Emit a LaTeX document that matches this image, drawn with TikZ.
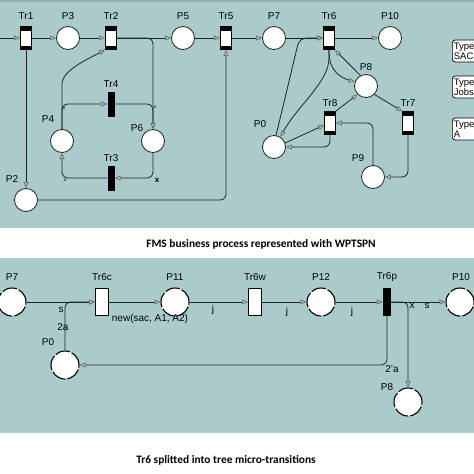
\documentclass[tikz,border=0pt]{standalone}
\usepackage{fontspec}
\setmainfont{Liberation Sans}
\newfontfamily\capfont{Carlito}
\usetikzlibrary{arrows.meta,positioning}

\definecolor{panel}{RGB}{171,203,203}
\definecolor{edge}{RGB}{30,36,36}

\begin{document}
\begin{tikzpicture}[x=1pt,y=-1pt,
    place/.style={circle,draw=edge,fill=white,inner sep=0pt,minimum size=23pt,line width=0.8pt},
    bplace/.style={circle,draw=black,fill=white,inner sep=0pt,minimum size=28pt,line width=1.1pt,dash pattern=on 15pt off 2pt},
    trans/.style={rectangle,draw=black,fill=white,inner sep=0pt,minimum width=11pt,minimum height=23pt,line width=0.6pt,
      path picture={
        \fill[black] (path picture bounding box.north west) rectangle ([yshift=-4pt]path picture bounding box.north east);
        \fill[black] (path picture bounding box.south west) rectangle ([yshift=4pt]path picture bounding box.south east);}},
    btrans/.style={rectangle,draw=black,fill=white,inner sep=0pt,minimum width=13pt,minimum height=27pt,line width=0.7pt},
    bar/.style={rectangle,fill=black,inner sep=0pt,minimum width=7pt,minimum height=25pt},
    lbl/.style={inner sep=0pt,font=\fontsize{10}{12}\selectfont},
    tiny/.style={inner sep=0pt,font=\fontsize{5}{6}\selectfont},
    caption/.style={font=\capfont\bfseries\fontsize{11.4}{13}\selectfont},
    typebox/.style={rectangle,rounded corners=3pt,draw=black,fill=white,line width=0.7pt,anchor=west,
      align=left,inner sep=1.5pt,minimum height=22pt,text width=40pt,font=\fontsize{9.5}{8.5}\selectfont},
    flow/.style={draw=edge,line width=0.8pt,line join=round,rounded corners=6pt,
      -{Triangle[open,length=6pt,width=5pt,color=black!55]}}
    ]

    \useasboundingbox (0,0) rectangle (474,474);
    \fill[white] (0,0) rectangle (474,474);
    \fill[panel] (0,0) rectangle (474,228);
    \fill[panel!85!black] (0,0) rectangle (474,2);
    \fill[panel] (0,258) rectangle (474,433);

    % top net
    \foreach \n/\x in {P3/68,P5/183,P7/274,P10/390}
      \node (\n) [place] at (\x,38) {};
    \foreach \n/\x in {Tr1/26,Tr2/111,Tr5/226,Tr6/329}
      \node (\n) [trans] at (\x,38) {};
    \foreach \n/\x in {Tr1/26,P3/68,Tr2/111,P5/183,Tr5/226,P7/274,Tr6/329,P10/390}
      \node (t\n) [lbl] at (\x,16) {\n};

    \node (P4) [place] at (62,141) {};
    \node (P6) [place] at (153,141) {};
    \node (P2) [place] at (26,200) {};
    \node (Tr4) [bar] at (111,104) {};
    \node (Tr3) [bar] at (111,178) {};
    \node (tP4) [lbl] at (48,119) {P4};
    \node (tP6) [lbl] at (137,128) {P6};
    \node (tP2) [lbl] at (12,179) {P2};
    \node (tTr4) [lbl] at (111,84) {Tr4};
    \node (tTr3) [lbl] at (111,158) {Tr3};

    \node (P8) [place] at (366,86) {};
    \node (P0) [place] at (274,147) {};
    \node (P9) [place] at (373,177) {};
    \node (Tr8) [trans] at (330,123) {};
    \node (Tr7) [trans] at (408,123) {};
    \node (tP8) [lbl] at (366,67) {P8};
    \node (tP0) [lbl] at (260,124) {P0};
    \node (tP9) [lbl] at (358,158) {P9};
    \node (tTr8) [lbl] at (330,103) {Tr8};
    \node (tTr7) [lbl] at (408,103) {Tr7};

    \node (ty1) [typebox] at (452,51) {Type\\SAC};
    \node (ty2) [typebox] at (452,87) {Type\\Jobs};
    \node (ty3) [typebox] at (452,129) {Type\\A};

    \coordinate (in) at (0,38);
    \draw[flow] (in) -- (Tr1);
    \foreach \a/\b in {Tr1/P3,P3/Tr2,Tr2/P5,P5/Tr5,Tr5/P7,P7/Tr6,Tr6/P10}
      \draw[flow] (\a) -- (\b);

    \draw[flow] (Tr2.east) -| (P6.north);
    \draw[flow] (P4.north) |- (Tr4.west);
    \draw[flow] (Tr4.east) -| (P6.north);
    \draw[flow,rounded corners=0pt] (P4.north) -- (62,84) .. controls (62,70) and (90,58) .. (Tr2.south west);
    \draw[flow] (P6.south) |- (Tr3.east);
    \draw[flow] (Tr3.west) -| (P4.south);
    \draw[flow] (Tr1.south) -- (P2.north);
    \draw[flow] (P2.east) -| (Tr5.south);
    \node (x1) [tiny] at (64,108) {x};
    \node (x2) [tiny] at (155,107) {x};
    \node (x3) [tiny] at (65,180) {x};
    \node (x4) [lbl,font=\fontsize{8}{9}\selectfont\bfseries] at (157,180) {x};

    \draw[flow,rounded corners=0pt] (Tr6.south) -- (329,52) .. controls (329,72) and (342,78) .. (P8.160);
    \draw[flow,rounded corners=0pt] (Tr6.south) -- (329,58) .. controls (329,82) and (298,105) .. (P0.58);
    \draw[flow] (P8.118) -- (Tr6.south east);
    \draw[flow,rounded corners=0pt] (P0.80) -- (297,48) .. controls (299,39) and (302,38) .. (310,38) -- (Tr6.west);
    \draw[flow] (P0.20) -- (Tr8.200);
    \draw[flow] (Tr8.south) |- (P0.east);
    \draw[flow] (Tr8.north east) -- (P8.225);
    \draw[flow] (P8.-45) -- (Tr7.north west);
    \draw[flow] (Tr7.south) |- (P9.east);
    \draw[flow] (P9.north) |- (Tr8.east);

    \node (cap1) [caption] at (261,244) {FMS business process represented with WPTSPN};

    % Tr6 split
    \foreach \n/\x in {P7/12,P11/175,P12/321,P10/460}
      \node (b\n) [bplace] at (\x,302) {};
    \foreach \n/\x in {Tr6c/102,Tr6w/255}
      \node (b\n) [btrans] at (\x,302) {};
    \node (bTr6p) [bar,minimum width=8pt,minimum height=28pt] at (387,302) {};
    \node (bP0) [bplace] at (65,365) {};
    \node (bP8) [bplace] at (408,402) {};
    \foreach \n/\x in {P7/12,Tr6c/102,P11/175,Tr6w/255,P12/321,Tr6p/387,P10/461}
      \node (tb\n) [lbl] at (\x,277) {\n};
    \node (tbP0) [lbl] at (48,342) {P0};
    \node (tbP8) [lbl] at (387,387) {P8};

    \draw[flow] (bP7) -- (bTr6c);
    \node (ls) [lbl] at (61,310) {s};
    \draw[flow] (bP0.north) |- (bTr6c.west);
    \node (l2a) [lbl] at (63,327) {2a};
    \draw[flow] (bTr6c) -- (bP11);
    \node (lnew) [lbl] at (150,319) {new(sac, A1, A2)};
    \draw[flow] (bP11) -- (bTr6w);
    \draw[flow] (bTr6w) -- (bP12);
    \draw[flow] (bP12) -- (bTr6p);
    \node (lj1) [lbl] at (213,310) {j};
    \node (lj2) [lbl] at (287,312) {j};
    \node (lj3) [lbl] at (352,312) {j};
    \draw[flow] (bTr6p) -- (bP10);
    \node (lx) [lbl] at (412,306) {x};
    \node (ls2) [lbl] at (427,306) {s};
    \draw[flow] (bTr6p.south) |- (bP0.east);
    \draw[flow] (bTr6p.east) -| (bP8.north);
    \node (l2pa) [lbl] at (392,369) {2'a};

    \node (cap2) [caption] at (226,460) {Tr6 splitted into tree micro-transitions};

  \end{tikzpicture}
\end{document}
